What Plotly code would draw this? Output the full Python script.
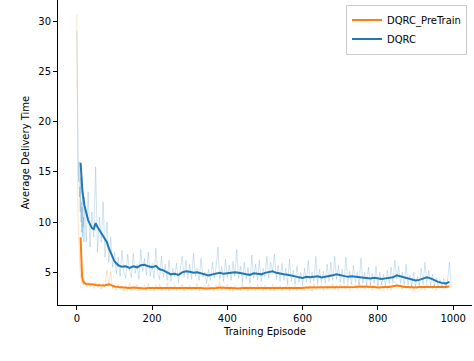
import plotly.graph_objects as go

# ---------------- data ----------------
raw_x = list(range(0, 20)) + list(range(20, 1000, 5))

dqrc_raw = [
    29.0, 22.5, 19.5, 17.0, 15.5, 14.0, 16.0, 12.5, 13.5, 11.0,
    14.5, 10.0, 12.0, 9.0, 11.5, 8.5, 13.0, 9.5, 10.5, 8.0,
    # 20..95
    12.5, 8.0, 13.0, 7.5, 11.0, 8.5, 15.5, 7.0, 10.5, 8.0, 12.0, 6.5, 10.0, 6.0, 8.5, 5.5,
    # 100..195
    7.0, 4.8, 6.5, 4.6, 7.2, 5.0, 4.4, 6.8, 5.2, 4.5, 6.9, 4.9, 5.8, 4.3, 7.3, 5.1, 6.4, 4.7, 7.0, 4.6,
    # 200..295
    5.9, 4.4, 7.4, 5.0, 4.3, 6.6, 4.5, 5.8, 4.2, 6.2, 4.1, 5.4, 4.6, 5.9, 4.0, 5.5, 6.6, 4.5, 6.2, 4.4,
    # 300..395
    5.8, 4.3, 6.9, 4.6, 5.4, 4.2, 6.4, 4.5, 5.0, 3.9, 5.3, 4.2, 6.0, 4.4, 5.5, 7.5, 4.3, 5.6, 4.1, 6.3,
    # 400..495
    4.5, 5.7, 4.2, 6.1, 4.6, 7.3, 4.4, 5.6, 4.0, 6.0, 4.3, 5.5, 3.9, 6.7, 4.4, 5.8, 4.2, 6.2, 4.1, 5.4,
    # 500..595
    4.5, 6.6, 4.4, 6.0, 5.1, 6.8, 4.3, 5.7, 4.1, 5.9, 4.2, 5.4, 3.9, 6.3, 4.1, 5.2, 3.8, 5.6, 4.0, 5.0,
    # 600..695
    3.8, 5.4, 4.0, 6.2, 3.9, 5.0, 4.1, 6.6, 3.8, 5.3, 4.0, 5.1, 3.9, 5.8, 4.1, 6.0, 4.2, 6.6, 4.3, 5.7,
    # 700..795
    4.0, 5.3, 3.9, 6.5, 4.0, 5.1, 3.8, 5.7, 4.0, 5.0, 3.8, 6.4, 3.9, 5.0, 3.7, 5.5, 3.8, 4.9, 3.9, 5.6,
    # 800..895
    3.7, 5.0, 3.8, 4.8, 3.7, 5.2, 3.9, 5.5, 4.0, 6.2, 4.3, 5.6, 3.9, 5.0, 3.8, 5.8, 3.7, 4.7, 3.6, 5.0,
    # 900..995
    3.6, 4.6, 3.7, 5.4, 3.8, 6.0, 4.0, 5.2, 3.7, 4.8, 3.6, 4.5, 3.5, 4.3, 3.5, 4.4, 3.4, 4.2, 6.0, 3.6,
]

pretrain_raw = [
    30.7, 17.0, 14.0, 11.0, 9.5, 8.0, 7.0, 6.5, 5.5, 5.0,
    4.6, 4.2, 4.5, 3.9, 4.1, 3.8, 4.0, 3.7, 4.2, 3.8,
    # 20..95
    4.1, 3.6, 4.0, 3.5, 3.9, 3.4, 4.0, 3.5, 3.8, 3.3, 3.9, 3.5, 5.2, 3.6, 5.1, 3.4,
    # 100..995
    3.7, 3.2, 3.8, 3.3, 3.6, 3.1, 3.7, 3.3, 3.9, 3.2, 3.5, 3.3, 3.8, 3.1, 3.6, 3.4, 3.7, 3.2, 3.9, 3.3,
    3.6, 3.1, 3.7, 3.4, 3.8, 3.2, 3.5, 3.3, 3.9, 3.1, 3.6, 3.3, 3.7, 3.2, 3.5, 3.4, 3.8, 3.1, 3.6, 3.3,
    3.7, 3.2, 3.5, 3.3, 3.9, 3.1, 3.6, 3.4, 3.7, 3.2, 3.8, 3.3, 3.5, 3.1, 3.7, 3.4, 4.0, 3.2, 3.6, 3.3,
    3.8, 3.2, 3.6, 3.1, 3.7, 3.3, 3.5, 3.2, 3.9, 3.3, 3.6, 3.1, 3.7, 3.4, 3.5, 3.2, 3.8, 3.3, 3.6, 3.1,
    3.7, 3.3, 3.5, 3.2, 3.8, 3.1, 3.6, 3.4, 3.7, 3.2, 3.5, 3.3, 3.9, 3.1, 3.6, 3.3, 3.7, 3.2, 3.5, 3.4,
    3.8, 3.2, 3.6, 3.3, 3.7, 3.1, 3.9, 3.3, 3.6, 3.4, 3.8, 3.2, 3.7, 3.3, 3.6, 3.4, 3.9, 3.3, 3.7, 3.2,
    3.8, 3.4, 3.7, 3.3, 3.9, 3.2, 3.6, 3.4, 3.8, 3.3, 4.0, 3.4, 3.7, 3.3, 3.8, 3.4, 3.9, 3.2, 3.7, 3.4,
    3.8, 3.3, 3.9, 3.4, 3.7, 3.3, 3.8, 3.2, 3.9, 4.1, 3.8, 3.5, 3.7, 3.3, 3.8, 3.4, 3.6, 3.3, 3.8, 3.2,
    3.7, 3.4, 3.8, 3.3, 3.6, 3.2, 3.9, 3.4, 3.7, 3.3, 3.8, 3.2, 3.6, 3.4, 3.7, 3.3, 3.9, 3.4, 3.8, 3.5,
]

dqrc_smooth_x = [10, 12, 15] + list(range(20, 100, 5)) + list(range(100, 1000, 10))
dqrc_smooth = [
    15.9, 14.5, 13.0,
    11.7, 10.8, 10.2, 9.8, 9.4, 9.3, 9.9, 9.5, 9.2, 8.9, 8.7, 8.4, 8.0, 7.4, 6.9, 6.4,
    # 100..190
    6.1, 5.7, 5.55, 5.6, 5.45, 5.6, 5.5, 5.7, 5.75, 5.6,
    # 200..290
    5.5, 5.65, 5.3, 5.2, 5.0, 4.8, 4.85, 4.75, 5.0, 5.1,
    # 300..390
    5.05, 4.95, 5.0, 4.9, 4.75, 4.7, 4.8, 4.9, 4.95, 4.85,
    # 400..490
    4.9, 4.9, 5.0, 4.95, 4.85, 4.8, 4.75, 4.9, 4.85, 4.8,
    # 500..590
    4.95, 5.0, 5.1, 4.95, 4.85, 4.8, 4.75, 4.7, 4.6, 4.5,
    # 600..690
    4.45, 4.55, 4.5, 4.55, 4.6, 4.5, 4.55, 4.6, 4.7, 4.8,
    # 700..790
    4.7, 4.6, 4.55, 4.6, 4.55, 4.5, 4.5, 4.45, 4.4, 4.45,
    # 800..890
    4.4, 4.35, 4.4, 4.45, 4.5, 4.7, 4.6, 4.45, 4.4, 4.3,
    # 900..990
    4.2, 4.25, 4.35, 4.5, 4.4, 4.2, 4.05, 3.95, 3.9, 4.05,
]

pretrain_smooth_x = [10, 12, 14, 16] + list(range(20, 100, 5)) + list(range(100, 1000, 10))
pretrain_smooth = [
    8.5, 6.0, 4.6, 4.2,
    3.95, 3.85, 3.85, 3.82, 3.8, 3.78, 3.75, 3.72, 3.7, 3.7, 3.7, 3.72, 3.75, 3.8, 3.75, 3.65,
    # 100..190
    3.6, 3.55, 3.5, 3.45, 3.45, 3.5, 3.45, 3.45, 3.4, 3.45,
    # 200..290
    3.45, 3.45, 3.5, 3.45, 3.45, 3.45, 3.5, 3.45, 3.5, 3.45,
    # 300..390
    3.45, 3.5, 3.45, 3.45, 3.4, 3.4, 3.45, 3.45, 3.5, 3.45,
    # 400..490
    3.45, 3.45, 3.4, 3.4, 3.45, 3.45, 3.45, 3.45, 3.4, 3.45,
    # 500..590
    3.45, 3.45, 3.45, 3.4, 3.4, 3.45, 3.45, 3.45, 3.45, 3.45,
    # 600..690
    3.45, 3.5, 3.5, 3.5, 3.5, 3.5, 3.5, 3.55, 3.55, 3.5,
    # 700..790
    3.55, 3.55, 3.55, 3.55, 3.55, 3.6, 3.6, 3.55, 3.55, 3.55,
    # 800..890
    3.5, 3.55, 3.55, 3.55, 3.6, 3.7, 3.65, 3.55, 3.55, 3.5,
    # 900..990
    3.5, 3.55, 3.55, 3.55, 3.5, 3.5, 3.55, 3.55, 3.55, 3.6,
]

x_ticks = [0, 200, 400, 600, 800, 1000]
y_ticks = [5, 10, 15, 20, 25, 30]

assert len(raw_x) == len(dqrc_raw) == len(pretrain_raw), (len(raw_x), len(dqrc_raw), len(pretrain_raw))
assert len(dqrc_smooth_x) == len(dqrc_smooth), (len(dqrc_smooth_x), len(dqrc_smooth))
assert len(pretrain_smooth_x) == len(pretrain_smooth), (len(pretrain_smooth_x), len(pretrain_smooth))

# ---------------- figure ----------------
BLUE = "#1f77b4"
ORANGE = "#ff7f0e"
FONT = "DejaVu Sans"

fig = go.Figure()
fig.add_trace(go.Scatter(x=raw_x, y=pretrain_raw, mode="lines", showlegend=False,
                         line=dict(color="rgba(255,127,14,0.22)", width=1), hoverinfo="skip"))
fig.add_trace(go.Scatter(x=pretrain_smooth_x, y=pretrain_smooth, mode="lines", name="DQRC_PreTrain",
                         line=dict(color=ORANGE, width=2)))
fig.add_trace(go.Scatter(x=raw_x, y=dqrc_raw, mode="lines", showlegend=False,
                         line=dict(color="rgba(31,119,180,0.2)", width=1), hoverinfo="skip"))
fig.add_trace(go.Scatter(x=dqrc_smooth_x, y=dqrc_smooth, mode="lines", name="DQRC",
                         line=dict(color=BLUE, width=2)))

axis_common = dict(showgrid=False, zeroline=False, showline=True, linecolor="black", linewidth=1,
                   ticks="outside", ticklen=4, tickwidth=1, tickcolor="black", automargin=False,
                   tickfont=dict(family=FONT, size=10, color="black"))

fig.update_layout(
    width=474, height=361,
    margin=dict(l=58, r=2, t=0, b=56),
    plot_bgcolor="white", paper_bgcolor="white",
    font=dict(family=FONT, size=10, color="black"),
    xaxis=dict(range=[-50, 1050], tickvals=x_ticks,
               title=dict(text="Training Episode", font=dict(family=FONT, size=10), standoff=4),
               **axis_common),
    yaxis=dict(range=[1.75, 32.1], tickvals=y_ticks,
               title=dict(text="Average Delivery Time", font=dict(family=FONT, size=10), standoff=6),
               **axis_common),
    legend=dict(x=0.988, y=0.985, xanchor="right", yanchor="top",
                bgcolor="rgba(255,255,255,0.8)", bordercolor="#cccccc", borderwidth=1,
                font=dict(family=FONT, size=10), tracegroupgap=0, itemwidth=30),
)

fig.write_html("out.html", config={"displayModeBar": False},
               post_script="document.body.style.margin='0';")
